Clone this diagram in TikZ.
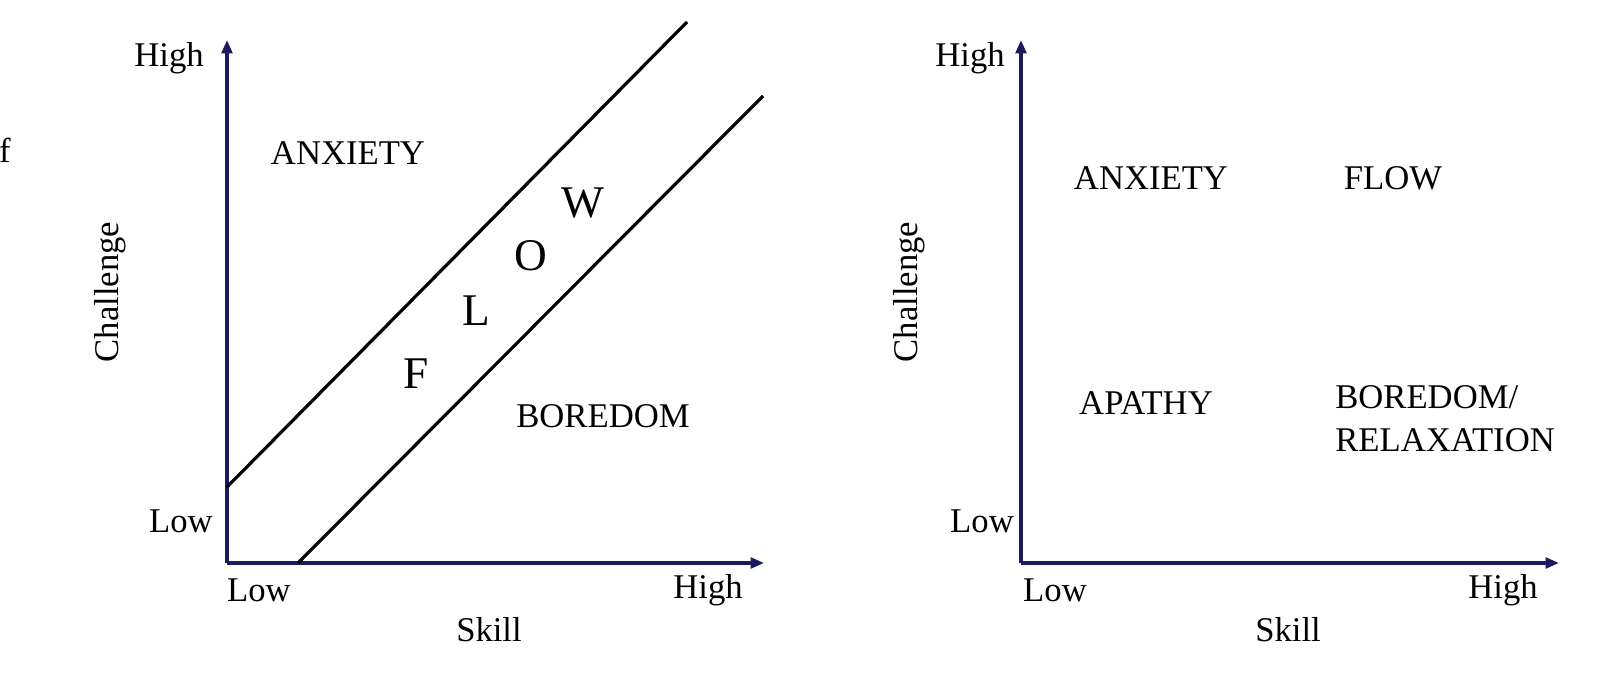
\documentclass[tikz,border=0pt]{standalone}
\usepackage{fontspec}
\setmainfont{Liberation Serif}
\usetikzlibrary{arrows.meta}
\definecolor{navy}{HTML}{1A1A5C}
\begin{document}
\begin{tikzpicture}[x=0.75pt,y=-0.75pt,
 axis/.style={navy,line width=2.4pt,-{Triangle[length=10pt,width=8pt]}},
 diag/.style={black,line width=2.4pt},
 lbl/.style={font=\fontsize{26}{28}\selectfont,inner sep=0pt},
 big/.style={font=\fontsize{34}{36}\selectfont,inner sep=0pt}]
\useasboundingbox (0,0) rectangle (1605,684);
% left chart
\coordinate (o1) at (227,563);
\coordinate (yt1) at (227,40);
\coordinate (xr1) at (764,563);
\draw[axis] (o1) -- (yt1);
\draw[axis] (o1) -- (xr1);
\coordinate (a1) at (227,487); \coordinate (a2) at (687,22);
\coordinate (b1) at (298,563); \coordinate (b2) at (763,96);
\draw[diag] (a1) -- (a2);
\draw[diag] (b1) -- (b2);
\node[lbl] (f0) at (5,150) {f};
\node[lbl] (h1) at (169,58) {High};
\node[lbl] (l1) at (181,521) {Low};
\node[lbl] (lx1) at (259,590) {Low};
\node[lbl] (hx1) at (708,590) {High};
\node[lbl] (s1) at (489,630) {Skill};
\node[lbl,rotate=90] (c1) at (110,292) {Challenge};
\node[lbl] (anx1) at (348,153) {ANXIETY};
\node[lbl] (bor1) at (603,416) {BOREDOM};
\node[big] (F) at (416,374) {F};
\node[big] (L) at (476,311) {L};
\node[big] (O) at (531,256) {O};
\node[big] (W) at (583,203) {W};
% right chart
\coordinate (o2) at (1021,563);
\coordinate (yt2) at (1021,40);
\coordinate (xr2) at (1559,563);
\draw[axis] (o2) -- (yt2);
\draw[axis] (o2) -- (xr2);
\node[lbl] (h2) at (970,58) {High};
\node[lbl] (l2) at (982,521) {Low};
\node[lbl] (lx2) at (1055,590) {Low};
\node[lbl] (hx2) at (1503,590) {High};
\node[lbl] (s2) at (1288,630) {Skill};
\node[lbl,rotate=90] (c2) at (909,292) {Challenge};
\node[lbl] (anx2) at (1151,178) {ANXIETY};
\node[lbl] (flow2) at (1393,178) {FLOW};
\node[lbl] (ap2) at (1146,403) {APATHY};
\node[lbl,anchor=west] (bo2) at (1335,397) {BOREDOM/};
\node[lbl,anchor=west] (re2) at (1335,440) {RELAXATION};
\end{tikzpicture}
\end{document}
